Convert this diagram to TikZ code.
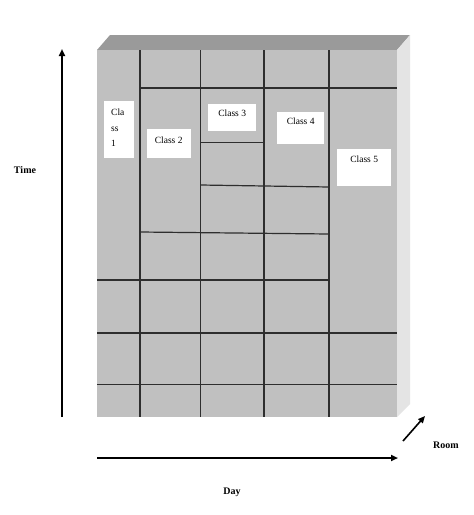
\documentclass[tikz,border=0pt]{standalone}
\usepackage{fontspec}
\setmainfont{Liberation Serif}
\usetikzlibrary{arrows.meta,calc}
\definecolor{frontc}{HTML}{C0C0C0}
\definecolor{topc}{HTML}{9A9A9A}
\definecolor{sidec}{HTML}{E4E4E4}
\definecolor{gridc}{HTML}{2E2E2E}
\tikzset{
  gridline/.style={draw=gridc, line width=1.2pt},
  axis/.style={draw=black, line width=1.8pt, -{Triangle[length=7pt,width=6pt]}},
  cbox/.style={draw=none, fill=white, inner sep=0pt, anchor=north west},
  ctext/.style={font=\fontsize{9.5}{15.5}\selectfont, inner sep=0pt, anchor=north},
  axlabel/.style={font=\fontsize{10}{12}\selectfont\bfseries, inner sep=0pt}
}
\begin{document}
\begin{tikzpicture}[x=1pt,y=-1pt]
\useasboundingbox[fill=white] (0,0) rectangle (474,515);
% block faces
\fill[topc] (97,50) -- (110,35) -- (410,35) -- (397,50) -- cycle;
\fill[sidec] (397,50) -- (410,35) -- (410,404) -- (397,417) -- cycle;
\fill[frontc] (97,50) rectangle (397,417);
% vertical lines
\foreach \x in {140,200.5,264,329} \draw[gridline] (\x,50) -- (\x,417);
% horizontal lines
\draw[gridline] (140,88) -- (397,88);
\draw[gridline] (200.5,142.5) -- (264,142.5);
\draw[gridline] (200.5,185) -- (329,187);
\draw[gridline] (140,232) -- (329,234);
\draw[gridline] (97,280) -- (329,280);
\draw[gridline] (97,333) -- (397,333);
\draw[gridline] (97,384.5) -- (397,384.5);
% class boxes
\node[cbox, minimum width=30, minimum height=57] (c1) at (104,101) {};
\node[ctext, anchor=north west, align=left] (t1) at (111,109) {Cla\\ss\\1};
\node[cbox, minimum width=44, minimum height=29] (c2) at (146.5,129) {};
\node[ctext] (t2) at ($(c2.north)+(0,8)$) {Class 2};
\node[cbox, minimum width=48, minimum height=27] (c3) at (208,104) {};
\node[ctext] (t3) at ($(c3.north)+(0,6)$) {Class 3};
\node[cbox, minimum width=47, minimum height=32] (c4) at (277,111.5) {};
\node[ctext] (t4) at ($(c4.north)+(0,6)$) {Class 4};
\node[cbox, minimum width=54, minimum height=37] (c5) at (337,149) {};
\node[ctext] (t5) at ($(c5.north)+(0,7)$) {Class 5};
% axes
\coordinate (tb) at (62,417);
\coordinate (tt) at (62,49);
\draw[axis] (tb) -- (tt);
\node[axlabel] (time) at (25,170) {Time};
\coordinate (dl) at (97,458);
\coordinate (dr) at (398,458);
\draw[axis] (dl) -- (dr);
\node[axlabel] (day) at (232,492) {Day};
\coordinate (rs) at (403,441);
\coordinate (re) at (425,416);
\draw[axis, line width=1.6pt] (rs) -- (re);
\node[axlabel] (room) at (446,445) {Room};
\end{tikzpicture}
\end{document}
